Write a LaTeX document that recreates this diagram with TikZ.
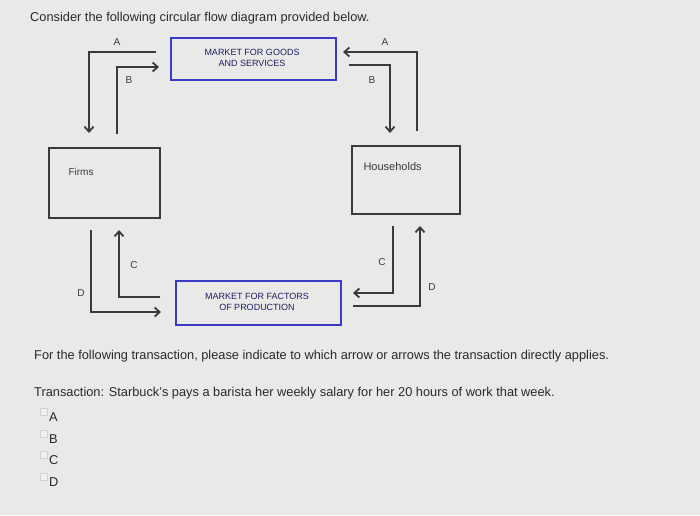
\documentclass[tikz,border=0pt]{standalone}
\usepackage{fontspec}
\setmainfont{Liberation Sans}
\usetikzlibrary{arrows.meta}
\definecolor{bg}{HTML}{E9E9E7}
\definecolor{ink}{HTML}{3A3A3A}
\definecolor{blu}{HTML}{3B3BC8}
\definecolor{txt}{HTML}{2A2A2A}
\begin{document}
\begin{tikzpicture}[x=1pt,y=-1pt,
  box/.style={draw=ink,line width=1.8pt,anchor=north west,inner sep=0},
  mbox/.style={draw=blu,line width=1.8pt,anchor=north west,inner sep=0},
  mtxt/.style={text=blu!50!black,font=\fontsize{9}{11}\selectfont,align=center},
  flow/.style={draw=ink,line width=1.8pt,-{Straight Barb[length=5pt,width=9pt]}},
  lab/.style={font=\fontsize{10}{11}\selectfont,text=ink},
  q/.style={anchor=base west,font=\fontsize{12.8}{14}\selectfont,text=txt,inner sep=0}]
\fill[bg] (0,0) rectangle (700,515);
\useasboundingbox (0,0) rectangle (700,515);
% boxes
\node[mbox,minimum width=165pt,minimum height=42pt] (goods) at (170,37) {};
\node[mtxt] (goodsT) at (252,58) {MARKET FOR GOODS\\AND SERVICES};
\node[mbox,minimum width=165pt,minimum height=44pt] (factors) at (175,280) {};
\node[mtxt] (factorsT) at (257,302) {MARKET FOR FACTORS\\OF PRODUCTION};
\node[box,minimum width=111pt,minimum height=70pt] (firms) at (48,147) {};
\node[lab,anchor=west] (firmsT) at (65,172) {Firms};
\node[box,minimum width=108pt,minimum height=68pt] (hh) at (351,145) {};
\node[lab,anchor=west,font=\fontsize{11}{12}\selectfont] (hhT) at (360,167) {Households};
% coordinates
\coordinate (a1) at (156,52); \coordinate (a2) at (89,133);
\coordinate (b1) at (117,134); \coordinate (b2) at (159,67);
\coordinate (a3) at (417,131); \coordinate (a4) at (343,52);
\coordinate (b3) at (349,65); \coordinate (b4) at (390,133);
\coordinate (d1) at (91,230); \coordinate (d2) at (161,312);
\coordinate (c1) at (160,297); \coordinate (c2) at (119,230);
\coordinate (c3) at (393,226); \coordinate (c4) at (353,293);
\coordinate (d3) at (353,306); \coordinate (d4) at (420,226);
\draw[flow] (a1) -| (a2);
\draw[flow] (b1) |- (b2);
\draw[flow] (a3) |- (a4);
\draw[flow] (b3) -| (b4);
\draw[flow] (d1) |- (d2);
\draw[flow] (c1) -| (c2);
\draw[flow] (c3) |- (c4);
\draw[flow] (d3) -| (d4);
\node[lab] (la1) at (117,42) {A};
\node[lab] (lb1) at (129,80) {B};
\node[lab] (la2) at (385,42) {A};
\node[lab] (lb2) at (372,80) {B};
\node[lab] (ld1) at (81,293) {D};
\node[lab] (lc1) at (134,265) {C};
\node[lab] (lc2) at (382,262) {C};
\node[lab] (ld2) at (432,287) {D};
% text
\node[q] (t1) at (30,21) {Consider the following circular flow diagram provided below.};
\node[q] (t2) at (34,359) {For the following transaction, please indicate to which arrow or arrows the transaction directly applies.};
\node[q] (t3) at (34,396) {Transaction: Starbuck's pays a barista her weekly salary for her 20 hours of work that week.};
\foreach \l/\y in {A/421,B/443,C/464,D/486}{
  \node[draw=gray!35,fill=gray!12,minimum size=7pt,inner sep=0] (cb\l) at (44,\y-9) {};
  \node[q,text=gray!30!black] (o\l) at (49,\y) {\l};
}
\end{tikzpicture}
\end{document}
